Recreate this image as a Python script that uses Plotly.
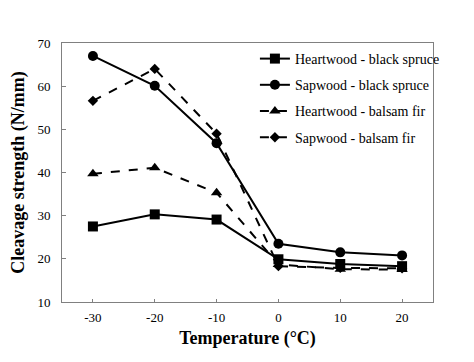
import plotly.graph_objects as go

temps = [-30, -20, -10, 0, 10, 20]
heart_spruce = [27.5, 30.3, 29.1, 19.9, 18.8, 18.3]
sap_spruce = [67.0, 60.1, 46.8, 23.5, 21.5, 20.8]
heart_fir = [39.7, 41.1, 35.3, 18.7, 17.6, 17.5]
sap_fir = [56.6, 64.0, 49.0, 18.3, 17.9, 17.8]

names = ["Heartwood - black spruce", "Sapwood - black spruce",
         "Heartwood - balsam fir", "Sapwood - balsam fir"]
series = [heart_spruce, sap_spruce, heart_fir, sap_fir]
symbols = ["square", "circle", "triangle-up", "diamond"]
sizes = [10, 10, 10, 8]
dashes = ["solid", "solid", "dash", "dash"]

fig = go.Figure()
for i, (n, ys) in enumerate(zip(names, series)):
    fig.add_trace(go.Scatter(
        x=temps, y=ys, name=n, mode="lines+markers",
        legendgroup=f"g{i}",
        line=dict(color="black", width=2, dash=dashes[i]),
        marker=dict(symbol=symbols[i], size=sizes[i], color="black"),
    ))

serif = "Liberation Serif"
fig.update_layout(
    width=466, height=354,
    margin=dict(l=54, r=41, t=35, b=60, autoexpand=False),
    paper_bgcolor="white", plot_bgcolor="white",
    font=dict(family=serif, color="black", size=12),
    showlegend=True,
    legend=dict(x=0.52, y=1.0, xanchor="left", yanchor="top",
                bgcolor="rgba(0,0,0,0)", font=dict(family=serif, size=14, color="black"),
                tracegroupgap=5, itemwidth=30),
    xaxis=dict(range=[-35, 25], tickvals=temps, ticktext=[str(t) for t in temps],
               showgrid=False, zeroline=False, showline=True, linecolor="#808080",
               linewidth=1, mirror=True, ticks="inside", ticklen=3, tickcolor="#808080",
               automargin=False, ticklabelstandoff=3,
               tickfont=dict(family=serif, size=13, color="black"),
               title=dict(text="<b>Temperature (°C)</b>",
                          font=dict(family=serif, size=18, color="black"), standoff=7)),
    yaxis=dict(range=[10, 70], dtick=10, showgrid=False, zeroline=False,
               showline=True, linecolor="#808080", linewidth=1, mirror=True,
               ticks="inside", ticklen=4, tickcolor="#808080", automargin=False,
               ticklabelstandoff=8,
               tickfont=dict(family=serif, size=13, color="black"),
               title=dict(text="<b>Cleavage strength (N/mm)</b>",
                          font=dict(family=serif, size=18, color="black"), standoff=10)),
)

fig.write_html("out.html")
